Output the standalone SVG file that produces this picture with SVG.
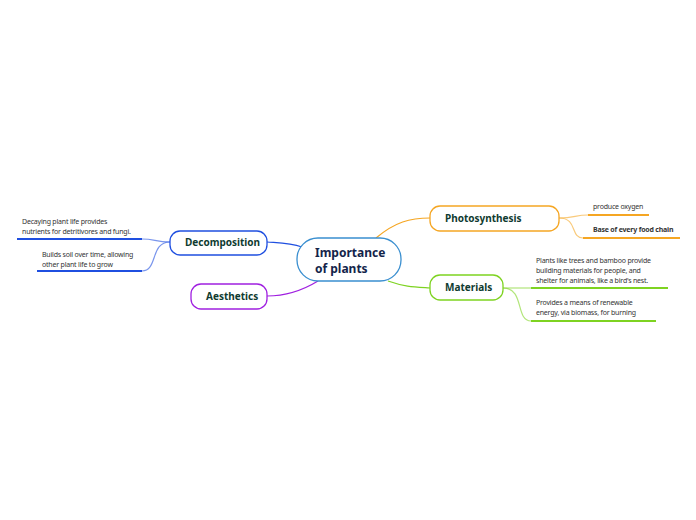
<svg xmlns="http://www.w3.org/2000/svg" width="696" height="520" viewBox="0 0 696 520">
<style>
.n{fill:#fff;stroke-width:1.3}
.t{font-family:"Noto Sans","Open Sans",sans-serif;font-size:10px;font-weight:bold;fill:#0f3b30}
.c{font-family:"Noto Sans","Open Sans",sans-serif;font-size:12px;font-weight:bold;fill:#13244a}
.s{font-family:"Noto Sans","Open Sans",sans-serif;font-size:7px;fill:#333;letter-spacing:-0.2px}
.l{fill:none;stroke-width:1.2}
</style>
<rect width="696" height="520" fill="#fff"/>
<g id="connectors">
<path class="l" stroke="#f5a623" d="M376,238 C395,222 410,218 430,218"/>
<path class="l" stroke="#7ed321" d="M388,281 C405,287 415,287 430,288"/>
<path class="l" stroke="#1f4fe0" d="M302,247 C290,243 280,243 267,242"/>
<path class="l" stroke="#a020e0" d="M318,281 C300,292 285,296 267,296"/>
<path class="l" stroke="#f5a623" stroke-opacity="0.6" d="M559,218 C575,218 575,215 588,215"/>
<path class="l" stroke="#f5a623" stroke-opacity="0.6" d="M559,218 C578,218 570,238 583,238"/>
<path class="l" stroke="#7ed321" stroke-opacity="0.6" d="M503,288 L531,288"/>
<path class="l" stroke="#7ed321" stroke-opacity="0.6" d="M503,288 C525,288 515,321 531,321"/>
<path class="l" stroke="#1f4fe0" stroke-opacity="0.6" d="M170,242 C155,242 155,239 142,239"/>
<path class="l" stroke="#1f4fe0" stroke-opacity="0.6" d="M170,242 C150,242 158,271 142,271"/>
<g stroke-width="2">
<line x1="588" y1="215" x2="649" y2="215" stroke="#f5a623"/>
<line x1="583" y1="238" x2="680" y2="238" stroke="#f5a623"/>
<line x1="531" y1="288" x2="668" y2="288" stroke="#7ed321"/>
<line x1="531" y1="321" x2="656" y2="321" stroke="#7ed321"/>
<line x1="17" y1="239" x2="142" y2="239" stroke="#1f4fe0"/>
<line x1="37" y1="271" x2="142" y2="271" stroke="#1f4fe0"/>
</g>
</g>
<g id="central"><rect class="n" x="297" y="238" width="104" height="43" rx="21" stroke="#3a8fd0"/><text class="c" x="315" y="257">Importance</text><text class="c" x="315" y="273">of plants</text></g>
<g id="photosynthesis"><rect class="n" x="430" y="206" width="129" height="25" rx="10" stroke="#f5a623"/><text class="t" x="445" y="222">Photosynthesis</text></g>
<g id="materials"><rect class="n" x="430" y="275" width="73" height="25" rx="10" stroke="#7ed321"/><text class="t" x="445" y="291">Materials</text></g>
<g id="decomposition"><rect class="n" x="170" y="231" width="97" height="24" rx="10" stroke="#1f4fe0"/><text class="t" x="185" y="246">Decomposition</text></g>
<g id="aesthetics"><rect class="n" x="191" y="284" width="76" height="25" rx="10" stroke="#a020e0"/><text class="t" x="206" y="300">Aesthetics</text></g>
<g id="leaf-oxygen"><text class="s" x="593" y="209">produce oxygen</text></g>
<g id="leaf-food"><text class="s" x="593" y="232" font-weight="bold" fill="#111">Base of every food chain</text></g>
<g id="leaf-building"><text class="s" x="536" y="263">Plants like trees and bamboo provide</text><text class="s" x="536" y="273">building materials for people, and</text><text class="s" x="536" y="283">shelter for animals, like a bird's nest.</text></g>
<g id="leaf-energy"><text class="s" x="536" y="305">Provides a means of renewable</text><text class="s" x="536" y="315">energy, via biomass, for burning</text></g>
<g id="leaf-decay"><text class="s" x="22" y="224">Decaying plant life provides</text><text class="s" x="22" y="234">nutrients  for detritivores and fungi.</text></g>
<g id="leaf-soil"><text class="s" x="42" y="257">Builds soil over time,  allowing</text><text class="s" x="42" y="267">other plant life to grow</text></g>
</svg>
